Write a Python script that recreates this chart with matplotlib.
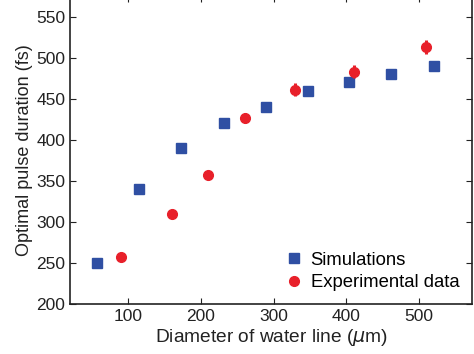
import matplotlib.pyplot as plt

plt.rcParams['font.family'] = ['Liberation Sans', 'DejaVu Sans']

sim_d = [57, 115, 173, 231, 289, 347, 404, 462, 520]
sim_t = [250, 340, 390, 420, 440, 460, 470, 480, 490]

exp_d = [90, 160, 210, 260, 330, 410, 510]
exp_t = [257, 310, 357, 427, 461, 483, 513]
exp_err = [3, 3, 4, 6, 8, 8, 8]

fig = plt.figure(figsize=(4.74, 3.54), dpi=100)
ax = fig.add_axes([0.148, 0.141, 0.848, 0.87])

ax.plot(sim_d, sim_t, 's', color='#2f4fa3', markersize=7, label='Simulations', linestyle='none')
ax.errorbar(exp_d, exp_t, yerr=exp_err, fmt='none', ecolor='#e8202a', elinewidth=2.2, capsize=0)
ax.plot(exp_d, exp_t, 'o', color='#e8202a', markersize=7, label='Experimental data', linestyle='none')

ax.set_xlim(20, 573)
ax.set_ylim(200, 575)
ax.set_xticks([100, 200, 300, 400, 500])
ax.set_yticks([200, 250, 300, 350, 400, 450, 500, 550])
ax.tick_params(axis='both', direction='in', labelsize=12.5, length=4, right=True, top=True,
               color='#222222', labelcolor='#222222')
for s in ax.spines.values():
    s.set_linewidth(1.2)
    s.set_color('#222222')

ax.set_xlabel(r"Diameter of water line ($\mu$m)", fontsize=13.8, color='#222222', labelpad=2)
ax.set_ylabel("Optimal pulse duration (fs)", fontsize=13, color='#222222', labelpad=2)

ax.legend(loc='lower right', frameon=False, fontsize=13.3, handletextpad=0.3,
          borderaxespad=0.3, labelspacing=0.3, handlelength=1.2)

fig.savefig('out.png', dpi=100)
